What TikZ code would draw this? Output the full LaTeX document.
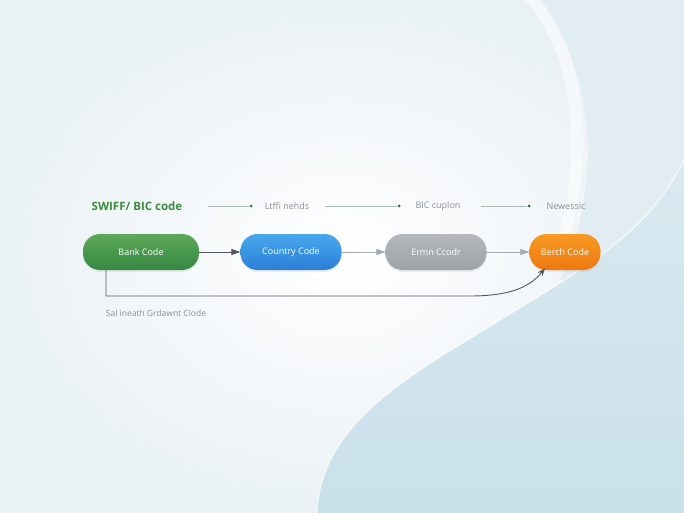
\documentclass[tikz,border=0pt]{standalone}
\usepackage{fontspec}
\setmainfont{Open Sans}
\usetikzlibrary{arrows.meta,shadows,calc}

\definecolor{bggray}{HTML}{EAF1F5}
\definecolor{swoosh}{HTML}{E2EDF3}
\definecolor{seablue}{HTML}{C9E0EA}
\definecolor{titlegreen}{HTML}{3A8C3E}
\definecolor{guideline}{HTML}{A9BCB6}
\definecolor{dotgreen}{HTML}{2B6B38}
\definecolor{textgray}{HTML}{8A9096}
\definecolor{linkdark}{HTML}{555A60}
\definecolor{linklight}{HTML}{A6ABB0}
\definecolor{banktop}{HTML}{5CA958}
\definecolor{bankbot}{HTML}{378744}
\definecolor{countrytop}{HTML}{48A8EE}
\definecolor{countrybot}{HTML}{2A7FD6}
\definecolor{ermntop}{HTML}{B4B8BC}
\definecolor{ermnbot}{HTML}{9EA3A8}
\definecolor{branchtop}{HTML}{F89A22}
\definecolor{branchbot}{HTML}{EC7810}

\begin{document}
\begin{tikzpicture}[x=1pt,y=-1pt,
  pill/.style={rounded corners=17pt,minimum height=36pt,text=white,
    font=\fontsize{9}{10}\selectfont,inner sep=0pt,
    drop shadow={opacity=0.12,shadow xshift=0pt,shadow yshift=-2pt}},
  guide/.style={guideline,line width=0.7pt},
  dot/.style={circle,fill=dotgreen,inner sep=0pt,minimum size=3pt},
  label/.style={text=textgray,font=\fontsize{9}{10}\selectfont}]
\useasboundingbox (0,0) rectangle (684,513);
% background
\shade [inner color=white,outer color=bggray] (0,0) rectangle (684,513);
\fill [swoosh] (533,0) .. controls (595,60) and (605,180) .. (560,280) -- (684,280) -- (684,0) -- cycle;
\fill [white,opacity=0.5] (540,0) .. controls (590,60) and (598,170) .. (558,270) -- (548,270) .. controls (585,170) and (578,60) .. (525,0) -- cycle;
\shade [top color=seablue!70,bottom color=seablue] (317,513) .. controls (320,420) and (420,370) .. (500,320) .. controls (590,265) and (650,230) .. (684,160) -- (684,513) -- cycle;
\draw [white,opacity=0.6,line width=1.5pt] (317,513) .. controls (320,420) and (420,370) .. (500,320) .. controls (590,265) and (650,230) .. (684,160);

% header row
\node (swift) at (137,206) [text=titlegreen,font=\fontsize{11.5}{13}\selectfont\bfseries] {SWIFF/ BIC code};
\node (d1) at (251,206) [dot] {};
\node (lab1) at (287,206) [label] {Ltffi nehds};
\node (d2) at (399,206) [dot] {};
\node (lab2) at (438,206) [label] {BIC cuplon};
\node (d3) at (529,206) [dot] {};
\node (lab3) at (566,206) [label] {Newessic};
\draw [guide] ([xshift=22pt]swift.east) -- (d1);
\draw [guide] ([xshift=12pt]lab1.east) -- (d2);
\draw [guide] ([xshift=17pt]lab2.east) -- (d3);

% flow
\node (bank) at (141,252) [pill,minimum width=116pt,top color=banktop,bottom color=bankbot] {Bank Code};
\node (country) at (291,252) [pill,minimum width=101pt,top color=countrytop,bottom color=countrybot] {Country Code};
\node (ermn) at (436,252) [pill,minimum width=101pt,top color=ermntop,bottom color=ermnbot] {Ermn Ccodr};
\node (branch) at (565,252) [pill,minimum width=71pt,top color=branchtop,bottom color=branchbot] {Berch Code};
\draw [-{Triangle[length=9pt,width=6pt]},linkdark,line width=0.8pt] (bank) -- (country);
\draw [-{Triangle[length=9pt,width=6pt]},linklight,line width=0.8pt] (country) -- (ermn);
\draw [-{Triangle[length=9pt,width=6pt]},linklight,line width=0.8pt] (ermn) -- (branch);
\coordinate (bend) at (470,296);
\draw [-{Stealth[length=8pt,width=6pt]},linkdark,line width=0.9pt] ([xshift=-35pt]bank.south) |- (bend) .. controls (510,296) and (530,287) .. ([xshift=-20pt,yshift=2pt]branch.south);

\node (note) at (156,313) [text=textgray,font=\fontsize{8.5}{10}\selectfont] {Sal ineath Grdawnt Clode};
\end{tikzpicture}
\end{document}
